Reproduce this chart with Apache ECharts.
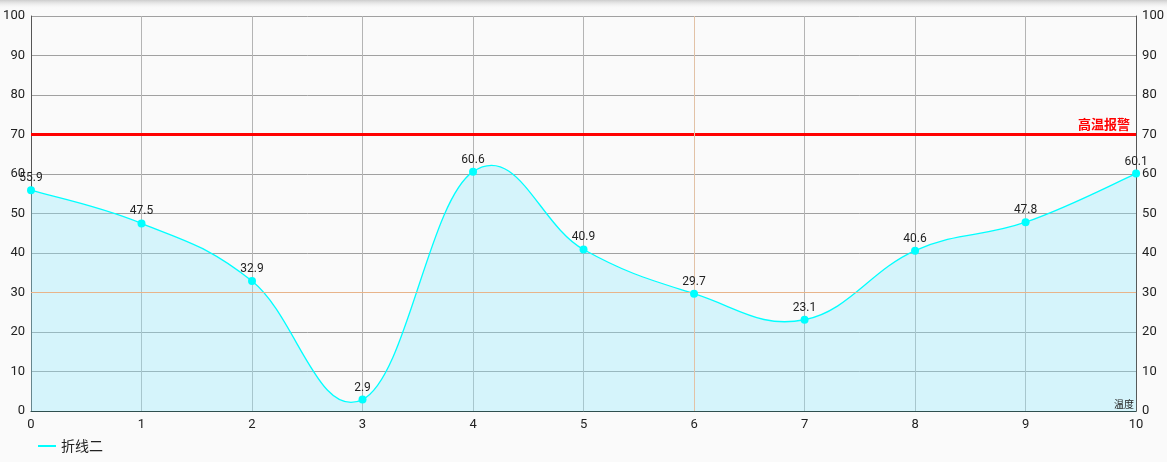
<!DOCTYPE html>
<html><head><meta charset="utf-8">
<script src="https://cdn.jsdelivr.net/npm/echarts@6/dist/echarts.min.js"></script>
<style>html,body{margin:0;padding:0;background:#fafafa}#c{width:1167px;height:462px}</style>
</head><body><div id="c"></div>
<script>
const categories = ['0','1','2','3','4','5','6','7','8','9','10'];
const seriesName = '折线二';
const values = [55.9, 47.5, 32.9, 2.9, 60.6, 40.9, 29.7, 23.1, 40.6, 47.8, 60.1];
const highLimit = 70;
const highLimitLabel = '高温报警';
const lowLimit = 30;
const xLimit = '6';
const descText = '温度';

const intensity = 0.2;
const chart = echarts.init(document.getElementById('c'));
const yBase = {
  type: 'value', min: 0, max: 100, interval: 10,
  axisLine: { show: true, lineStyle: { color: '#555', width: 1 } },
  axisTick: { show: false },
  axisLabel: { color: '#222', fontSize: 13, fontFamily: 'Roboto', margin: 6 }
};

function renderCurve(params, api) {
  if (params.dataIndex !== 0) return;
  const n = values.length;
  const p = values.map((v, i) => api.coord([i, v]));
  const base = api.coord([0, 0])[1];
  let d = 'M' + p[0][0] + ' ' + p[0][1];
  for (let j = 1; j < n; j++) {
    const pp = p[Math.max(j - 2, 0)], prev = p[j - 1], cur = p[j], next = p[Math.min(j + 1, n - 1)];
    const c1x = prev[0] + (cur[0] - pp[0]) * intensity, c1y = prev[1] + (cur[1] - pp[1]) * intensity;
    const c2x = cur[0] - (next[0] - prev[0]) * intensity, c2y = cur[1] - (next[1] - prev[1]) * intensity;
    d += ' C' + c1x + ' ' + c1y + ' ' + c2x + ' ' + c2y + ' ' + cur[0] + ' ' + cur[1];
  }
  const area = d + ' L' + p[n - 1][0] + ' ' + base + ' L' + p[0][0] + ' ' + base + ' Z';
  return {
    type: 'group',
    children: [
      { type: 'path', shape: { pathData: area }, style: { fill: 'rgba(140,234,255,0.333)', stroke: null } },
      { type: 'path', shape: { pathData: d }, style: { fill: null, stroke: '#00ffff', lineWidth: 1.3 } }
    ]
  };
}

chart.setOption({
  backgroundColor: '#fafafa',
  animation: false,
  grid: { left: 31, right: 30, top: 16, bottom: 51 },
  legend: {
    left: 33, bottom: 4, itemWidth: 18, itemHeight: 2, icon: 'rect', itemGap: 10,
    textStyle: { fontSize: 14, color: '#222', fontFamily: 'Noto Sans CJK SC' },
    data: [{ name: seriesName, itemStyle: { color: '#00ffff', opacity: 1 } }]
  },
  xAxis: {
    type: 'category', data: categories, boundaryGap: false,
    axisLine: { lineStyle: { color: '#2f4f4f', width: 1 } },
    axisTick: { show: false },
    axisLabel: { color: '#222', fontSize: 13, fontFamily: 'Roboto', margin: 7 },
    splitLine: { show: true, lineStyle: { color: '#b4b4b4', width: 1 } }
  },
  yAxis: [
    Object.assign({}, yBase, { position: 'left', splitLine: { show: true, lineStyle: { color: '#a0a0a0', width: 1 } } }),
    Object.assign({}, yBase, { position: 'right', splitLine: { show: false } })
  ],
  graphic: [
    { type: 'rect', left: 0, top: 0, shape: { width: 1167, height: 9 }, z: 100,
      style: { fill: new echarts.graphic.LinearGradient(0, 0, 0, 1, [
        { offset: 0, color: 'rgba(200,200,200,0.9)' }, { offset: 1, color: 'rgba(250,250,250,0)' }]) } },
    { type: 'text', right: 33, top: 399, z: 50,
      style: { text: descText, fontSize: 10, fill: '#222', fontFamily: 'Noto Sans CJK SC' } }
  ],
  series: [{
    name: 'curve', type: 'custom', renderItem: renderCurve, z: 1,
    data: values.map((v, i) => [i, v]), silent: true
  }, {
    name: seriesName, type: 'line', data: values, smooth: false, z: 3,
    symbol: 'circle', symbolSize: 8,
    itemStyle: { color: '#00ffff' },
    lineStyle: { color: '#00ffff', width: 0 },
    label: { show: true, position: 'top', distance: 2, color: '#222', fontSize: 12, fontFamily: 'Roboto' },
    markLine: {
      silent: true, symbol: 'none', animation: false, z: 2,
      data: [
        { yAxis: highLimit, lineStyle: { color: '#ff0000', width: 3, type: 'solid' },
          label: { show: true, formatter: highLimitLabel, position: 'insideEndTop', color: '#ff0000', fontWeight: 'bold', fontSize: 13, fontFamily: 'Noto Sans CJK SC', distance: [6, 4] } },
        { yAxis: lowLimit, lineStyle: { color: '#e8b48a', width: 1, type: 'solid' }, label: { show: false } },
        { xAxis: xLimit, lineStyle: { color: '#e2c2a6', width: 1, type: 'solid' }, label: { show: false } }
      ]
    }
  }]
});
</script></body></html>
